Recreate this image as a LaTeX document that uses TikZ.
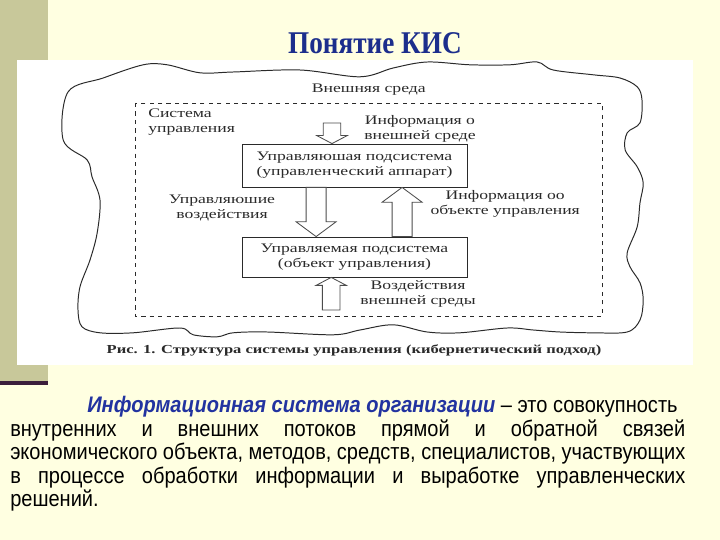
\documentclass[tikz,border=0pt]{standalone}
\usepackage{fontspec}
\setmainfont{Liberation Serif}
\newfontfamily\scanfont[FakeStretch=1.35]{Liberation Serif}
\newfontfamily\titlefont[FakeStretch=0.86]{Liberation Serif}
\newfontfamily\slidefont[FakeStretch=0.89]{Liberation Sans}
\usepackage{tikz}
\usetikzlibrary{calc}
\definecolor{Crema}{HTML}{FFFFE1}
\definecolor{Oliva}{HTML}{C8C89A}
\definecolor{Ciruela}{HTML}{3B1E3B}
\definecolor{AzulTitulo}{HTML}{1C2E8C}
\definecolor{AzulTexto}{HTML}{2233A0}
\definecolor{Tinta}{HTML}{2A2A2A}

\begin{document}
\begin{tikzpicture}[
  every node/.style={inner sep=0pt},
  scan/.style={font=\scanfont\fontsize{9.3}{10.5}\selectfont,text=Tinta,align=center},
  subsys/.style={draw=Tinta,line width=0.6pt,minimum width=5.625cm},
  blockarrow/.style n args={3}{draw=black!70,line width=0.6pt,fill=white,
    to path={let \p1=(\tikztostart),\p2=(\tikztotarget),
      \n1={ifthenelse(\y2<\y1,#3,-#3)} in
      (\x1-#1,\y1) -- (\x1-#1,\y2+\n1) -- (\x1-#2,\y2+\n1) -- (\x2,\y2)
      -- (\x1+#2,\y2+\n1) -- (\x1+#1,\y2+\n1) -- (\x1+#1,\y1) -- cycle}},
  bigarrow/.style={blockarrow={0.25cm}{0.5cm}{0.37cm}},
  smallarrow/.style={blockarrow={0.22cm}{0.38cm}{0.2cm}}
]
  % Fondo de la diapositiva.
  \useasboundingbox (0,0) rectangle (18,13.5);
  \fill[Crema] (0,0) rectangle (18,13.5);
  \fill[Oliva] (0,3.975) rectangle (1.2,13.5);
  \fill[Ciruela] (0,3.875) rectangle (1.2,3.975);
  \fill[white] (0.425,4.375) rectangle (17.325,12.0);
  \node[font=\titlefont\fontsize{22.5}{26}\selectfont\bfseries,text=AzulTitulo]
    (titulo) at (9.375,12.43) {Понятие КИС};

  % Внешняя среда.
  \draw[line width=0.7pt,Tinta] plot[smooth cycle,tension=0.55] coordinates {
    (1.70,11.20) (2.58,11.55) (3.58,11.88) (4.18,11.88) (5.00,11.68)
    (5.83,11.70) (7.50,11.75) (9.00,11.58) (9.83,11.80) (10.68,11.95)
    (11.75,11.88) (12.75,11.88) (13.43,11.95) (13.83,11.75) (14.83,11.63)
    (15.50,11.55) (15.93,11.33) (16.05,11.00) (16.00,10.43) (15.68,10.18)
    (15.63,9.75) (15.93,9.33) (16.08,8.93) (16.00,8.43) (15.93,7.83)
    (15.68,7.18) (15.75,6.83) (16.00,6.43) (16.08,6.00) (16.00,5.50)
    (15.68,5.20) (14.83,5.18) (14.00,5.20) (13.33,5.25) (12.68,5.30)
    (11.50,5.18) (10.68,5.20) (9.83,5.38) (9.00,5.25) (8.33,5.13)
    (6.68,5.20) (5.83,5.18) (5.43,5.08) (4.83,5.13) (4.50,5.30)
    (3.33,5.18) (2.50,5.18) (2.05,5.33) (1.95,5.75) (2.00,6.33)
    (2.25,7.00) (2.43,7.68) (2.50,8.50) (2.30,9.08) (2.18,9.50)
    (1.58,10.00)
  };
  \node[scan] (sreda) at (9.22,11.25) {Внешняя среда};
  \draw[Tinta,dashed,line width=0.6pt] (3.375,10.925) rectangle (15.05,5.60);
  \node[scan,align=left,anchor=west] (sistema) at (3.70,10.44) {Система\\управления};
  \node[scan] (infvn) at (10.50,10.275) {Информация о\\внешней среде};

  % Подсистемы и потоки.
  \node[subsys,minimum height=1.075cm] (upr) at (8.8625,9.3625) {};
  \node[scan] at (upr) {Управляюшая подсистема\\(управленческий аппарат)};
  \node[subsys,minimum height=1.0cm] (obj) at (8.8625,7.075) {};
  \node[scan] at (obj) {Управляемая подсистема\\(объект управления)};
  \coordinate (vhod) at (8.30,10.425);
  \coordinate (vozd) at (8.28,5.75);
  \draw[smallarrow] (vhod) to (vhod |- upr.north);
  \draw[bigarrow] ([xshift=-0.96cm]upr.south) to ([xshift=-0.96cm]obj.north);
  \draw[bigarrow] ([xshift=1.19cm]obj.north) to ([xshift=1.19cm]upr.south);
  \draw[smallarrow] (vozd) to (vozd |- obj.south);
  \node[scan] (upvozd) at (5.55,8.30) {Управляюшие\\воздействия};
  \node[scan] (infobj) at (12.63,8.40) {Информация оо\\объекте управления};
  \node[scan] (vnvozd) at (10.45,6.15) {Воздействия\\внешней среды};
  \node[font=\scanfont\fontsize{8.7}{10}\selectfont\bfseries,text=Tinta] (ris) at (8.85,4.75)
    {Рис. 1. Структура системы управления (кибернетический подход)};

  % Определение.
  \node[anchor=north west,text width=16.875cm,align=justify,
    font=\slidefont\fontsize{16}{16.7}\selectfont] (opr) at (0.25,3.6)
    {\hspace*{1.925cm}\textcolor{AzulTexto}{\textbf{\textit{Информационная система организации}}}
     – это совокупность\newline внутренних и внешних потоков прямой и обратной связей\linebreak
     экономического объекта, методов, средств, специалистов, участвующих\linebreak
     в процессе обработки информации и выработке управленческих\linebreak решений.};
\end{tikzpicture}
\end{document}
